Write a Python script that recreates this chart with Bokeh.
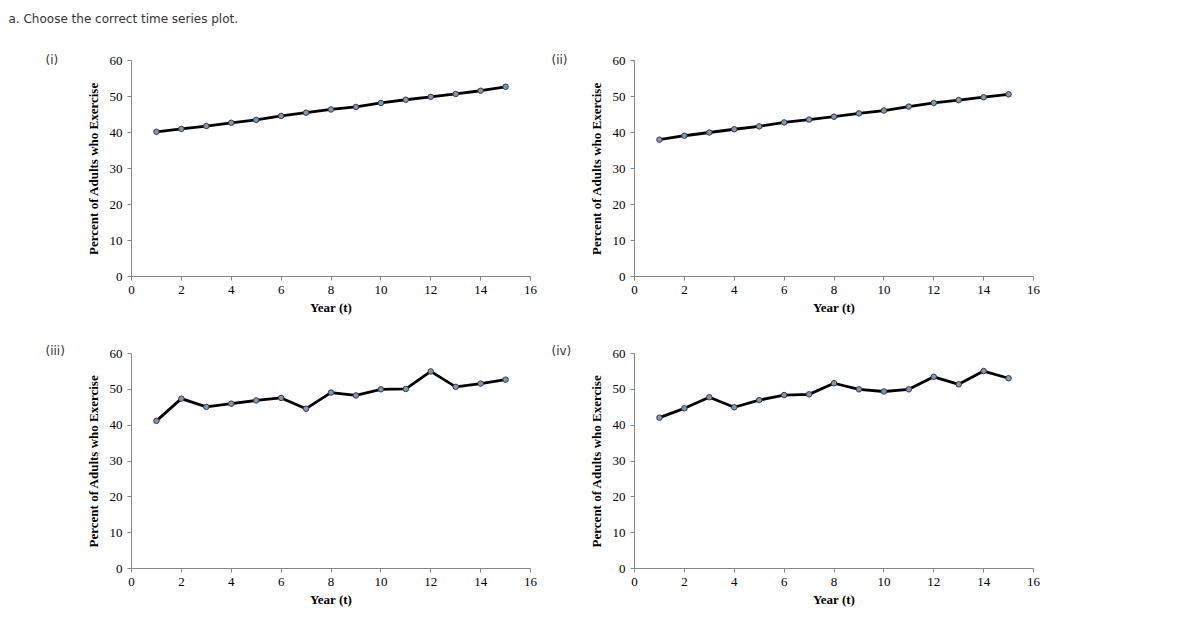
from bokeh.plotting import figure
from bokeh.layouts import column, row
from bokeh.models import Range1d, FixedTicker, Title
from bokeh.core.properties import value
from bokeh.embed import file_html
from bokeh.resources import INLINE

years = list(range(1, 16))
series_i = [40.2, 41.0, 41.8, 42.7, 43.5, 44.6, 45.5, 46.4, 47.1, 48.2, 49.1, 49.9, 50.7, 51.6, 52.7]
series_ii = [38.0, 39.1, 40.0, 40.9, 41.7, 42.8, 43.6, 44.4, 45.3, 46.1, 47.2, 48.2, 49.0, 49.8, 50.6]
series_iii = [41.2, 47.4, 45.1, 46.0, 46.9, 47.6, 44.6, 49.1, 48.3, 50.0, 50.1, 55.0, 50.7, 51.6, 52.7]
series_iv = [42.1, 44.7, 47.8, 45.0, 47.0, 48.4, 48.6, 51.7, 50.0, 49.4, 50.0, 53.5, 51.4, 55.1, 53.1]
panel_labels = ["(i)", "(ii)", "(iii)", "(iv)"]
x_ticks = [0, 2, 4, 6, 8, 10, 12, 14, 16]
y_ticks = [0, 10, 20, 30, 40, 50, 60]
title_text = "a. Choose the correct time series plot."
x_title = "Year (t)"
y_title = "Percent of Adults who Exercise"

SERIF = "Liberation Serif"
SANS = "DejaVu Sans"
AXIS_COLOR = "#868686"
TEXT_COLOR = "#333333"


def make_panel(vals, width, height, bl, br, bt, bb):
    p = figure(width=width, height=height, output_backend="svg", toolbar_location=None,
               x_range=Range1d(0, 16), y_range=Range1d(0, 60),
               min_border_left=bl, min_border_right=br, min_border_top=bt, min_border_bottom=bb)
    p.outline_line_color = None
    p.xgrid.visible = False
    p.ygrid.visible = False
    p.background_fill_color = "white"
    p.border_fill_color = "white"
    p.xaxis.ticker = FixedTicker(ticks=x_ticks)
    p.yaxis.ticker = FixedTicker(ticks=y_ticks)
    for ax in (p.xaxis, p.yaxis):
        ax.axis_line_color = AXIS_COLOR
        ax.major_tick_line_color = AXIS_COLOR
        ax.minor_tick_line_color = None
        ax.major_tick_in = 0
        ax.major_tick_out = 4
        ax.major_label_text_font = SERIF
        ax.major_label_text_font_size = "13px"
        ax.major_label_text_color = "black"
        ax.major_label_standoff = 5
        ax.axis_label_text_font = SERIF
        ax.axis_label_text_font_size = "13px"
        ax.axis_label_text_font_style = "bold"
        ax.axis_label_text_color = "black"
    p.xaxis.axis_label = x_title
    p.yaxis.axis_label = y_title
    p.xaxis.axis_label_standoff = 3
    p.yaxis.axis_label_standoff = 6

    p.line(years, vals, line_color="black", line_width=2.8)
    p.scatter(years, vals, size=5.5, fill_color="#8497b0", line_color="#2f3d4c", line_width=1)
    return p


def ttl(text, offset, standoff):
    return Title(text=text, align="left", offset=offset, standoff=standoff, text_font=SANS,
                 text_font_size="12px", text_color=TEXT_COLOR, text_font_style="normal")


# heading strip
head = figure(width=1172, height=36, output_backend="svg", toolbar_location=None,
              x_range=Range1d(0, 1172), y_range=Range1d(36, 0),
              x_axis_location=None, y_axis_location=None,
              min_border_left=0, min_border_right=0, min_border_top=0, min_border_bottom=0)
head.outline_line_color = None
head.xgrid.visible = False
head.ygrid.visible = False
head.text(x=[8], y=[18], text=[title_text], text_font=value(SANS), text_font_size="12px",
          text_color=TEXT_COLOR, text_baseline="middle", text_align="left")

p1 = make_panel(series_i, 545, 289, 131, 15, 24, 49)
p2 = make_panel(series_ii, 627, 289, 89, 139, 24, 49)
p3 = make_panel(series_iii, 545, 287, 131, 15, 28, 44)
p4 = make_panel(series_iv, 627, 287, 89, 139, 28, 44)

p1.add_layout(ttl(panel_labels[0], -86, -13), "above")
p2.add_layout(ttl(panel_labels[1], -83, -13), "above")
p3.add_layout(ttl(panel_labels[2], -86, -9), "above")
p4.add_layout(ttl(panel_labels[3], -83, -9), "above")

layout = column(head, row(p1, p2), row(p3, p4))
open("out.html", "w").write(file_html(layout, INLINE))
